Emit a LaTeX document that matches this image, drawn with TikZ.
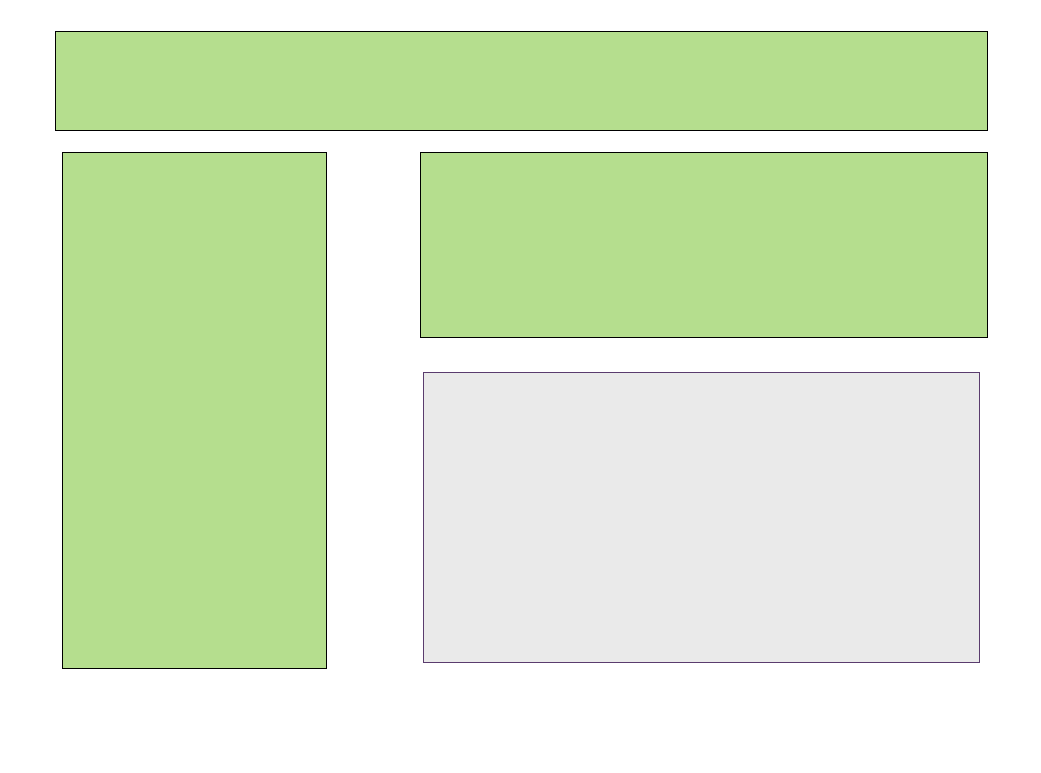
\documentclass[tikz,border=0pt]{standalone}
\usepackage{tikz}
\definecolor{panelgreen}{RGB}{181,222,142}
\definecolor{panelgray}{RGB}{234,234,234}
\definecolor{panelpurple}{RGB}{90,60,110}

\begin{document}
\begin{tikzpicture}[x=1pt,y=-1pt,
        panel/.style={rectangle,draw=black,fill=panelgreen,anchor=north west,inner sep=0pt},
        blank/.style={rectangle,draw=panelpurple,fill=panelgray,anchor=north west,inner sep=0pt}]
      \useasboundingbox (0,0) rectangle (1041,773);
      \node [panel] (header)  at (55,31)   [minimum width=932pt, minimum height=99pt]  {};
      \node [panel] (sidebar) at (62,152)  [minimum width=264pt, minimum height=516pt] {};
      \node [panel] (banner)  at (420,152) [minimum width=567pt, minimum height=185pt] {};
      \node [blank] (content) at (423,372) [minimum width=556pt, minimum height=290pt] {};
    \end{tikzpicture}
\end{document}
